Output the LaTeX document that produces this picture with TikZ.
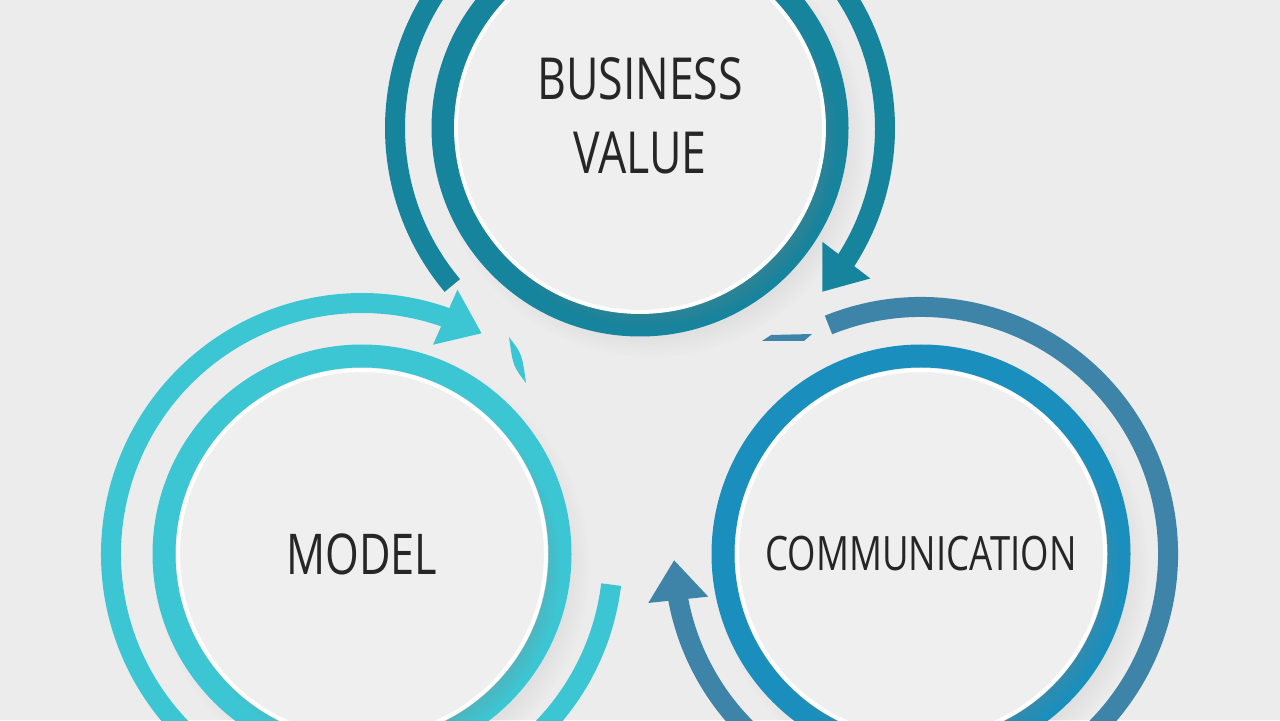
\documentclass[tikz,border=0pt]{standalone}
\usepackage{fontspec}
\setmainfont{Open Sans}[FakeStretch=0.77]
\usetikzlibrary{positioning, arrows.meta, bending, shadows}
\definecolor{paper}{HTML}{ECECEC}
\definecolor{diskgray}{HTML}{EFEFEF}
\definecolor{inkgray}{HTML}{262626}
\definecolor{valuecol}{HTML}{16849D}
\definecolor{modelcol}{HTML}{3CC6D3}
\definecolor{commring}{HTML}{1A8FBD}
\definecolor{commarc}{HTML}{3E84A9}

\begin{document}
\begin{tikzpicture}[
    x=0.02cm, y=0.02cm,
    stage/.style={circle, fill=diskgray, draw=white, line width=0.08cm, minimum size=7.36cm, inner sep=0pt, align=center, text=inkgray,
      circular drop shadow={shadow xshift=0.18cm, shadow yshift=-0.22cm, shadow scale=1.03, opacity=0.35}},
    ring/.style={line width=0.46cm},
    cycle/.style={line width=0.4cm, -{Triangle[width=1.15cm, length=0.8cm]}},
    ringshade/.style={circular drop shadow={shadow xshift=0.2cm, shadow yshift=-0.25cm, shadow scale=1.04, opacity=0.15}}
]

% page
\fill[paper] (0,0) rectangle (1280,720);
\useasboundingbox (0,0) rectangle (1280,720);

% centres
\coordinate (valc) at (640,592);
\coordinate (modc) at (362,166);
\coordinate (comc) at (921,166);

% rings
\path[ringshade] (valc) circle[radius=208];
\path[ringshade] (modc) circle[radius=209];
\path[ringshade] (comc) circle[radius=209];
\draw[ring, valuecol] (valc) circle[radius=197];
\draw[ring, modelcol] (modc) circle[radius=198];
\draw[ring, commring] (comc) circle[radius=198];

% circular arrows
\draw[cycle, valuecol] ([shift={(220:245)}]valc) arc[start angle=220, end angle=-42, radius=245];
\draw[cycle, modelcol] ([shift={(-7:251)}]modc) arc[start angle=-7, end angle=-298.5, radius=251];
\draw[cycle, commarc] ([shift={(112:247)}]comc) arc[start angle=112, end angle=-178.6, radius=247];

% small broken pieces
\fill[modelcol] (509,383) .. controls (522,366) .. (526,337) .. controls (513,354) .. cycle;
\fill[commarc] (762,379) -- (771,385) -- (812,386) -- (804,379) -- cycle;

% stages
\node[stage, font=\fontsize{33}{42}\selectfont] (value) at (valc) {BUSINESS\\VALUE\\[-28pt]\mbox{}};
\node[stage, font=\fontsize{32}{38}\selectfont] (model) at (modc) {MODEL};
\node[stage, font=\fontsize{27}{32}\selectfont] (comm) at (comc) {COMMUNICATION};

\end{tikzpicture}
\end{document}
